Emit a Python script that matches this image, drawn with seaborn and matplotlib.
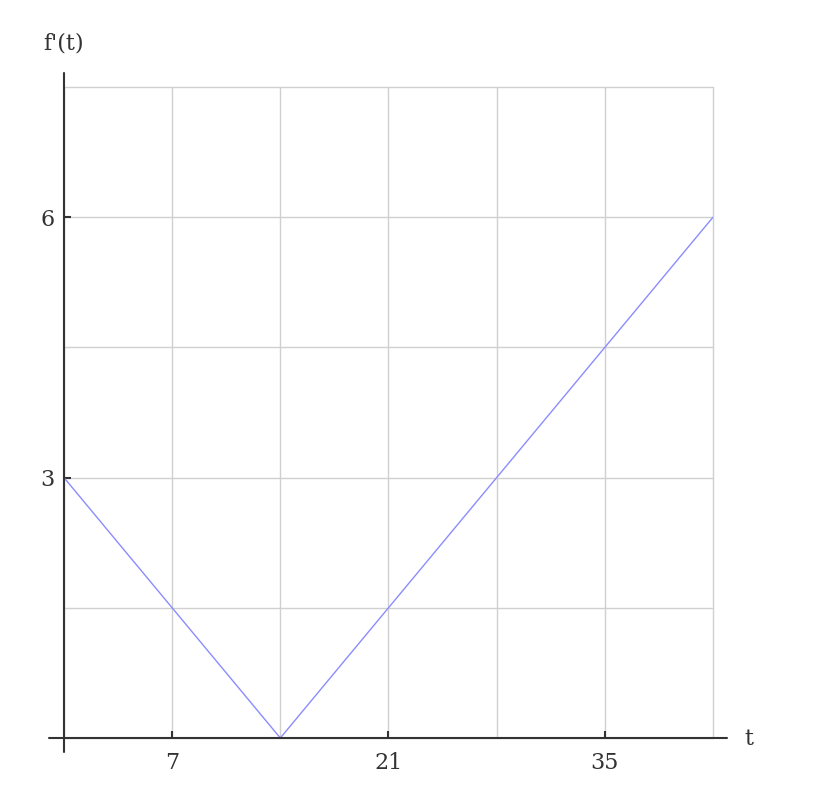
import matplotlib
matplotlib.use("Agg")
import matplotlib.pyplot as plt
import seaborn as sns
import pandas as pd

# data
t_values = [0, 14, 42]
fprime_values = [3, 0, 6]
x_tick_labels = [7, 21, 35]
y_tick_labels = [3, 6]

df = pd.DataFrame({"t": t_values, "f'(t)": fprime_values})

sns.set_style("white")
plt.rcParams['font.family'] = ['DejaVu Serif', 'DejaVu Sans']

fig = plt.figure(figsize=(8.34, 8.02), dpi=100)
ax = fig.add_axes([0.0767, 0.0798, 0.7782, 0.8117])

sns.lineplot(data=df, x="t", y="f'(t)", color="#8c8cff", linewidth=1.0, ax=ax)

ax.set_xlim(0, 42)
ax.set_ylim(0, 7.5)

# grid every 7 / 1.5
ax.set_xticks(range(0, 43, 7), minor=True)
ax.set_yticks([i * 1.5 for i in range(6)], minor=True)
ax.set_xticks(x_tick_labels)
ax.set_yticks(y_tick_labels)
ax.grid(True, which="both", color="#d0d0d0", linewidth=1.0)
ax.tick_params(which="minor", length=0)
ax.tick_params(which="major", direction="in", length=5, width=1.5,
               bottom=True, left=True, color="#333333",
               labelsize=16, labelcolor="#333333")
ax.tick_params(axis="y", pad=7)
ax.tick_params(axis="x", pad=10)

for s in ax.spines.values():
    s.set_visible(False)

# keep the edge gridlines whole
for tk in ax.xaxis.get_minor_ticks() + ax.yaxis.get_minor_ticks():
    tk.gridline.set_clip_on(False)

# crossing axis lines with overhang
ax.axhline(0, xmin=-0.023, xmax=1.022, color="#333333", linewidth=1.5, clip_on=False)
ax.axvline(0, ymin=-0.0215, ymax=1.0215, color="#333333", linewidth=1.5, clip_on=False)

ax.set_xlabel("")
ax.set_ylabel("")
fig.text(0.076, 0.946, "f'(t)", fontsize=16, color="#333333", ha="center", va="center")
fig.text(0.898, 0.078, "t", fontsize=16, color="#333333", ha="center", va="center")

fig.savefig("out.png", dpi=100)
